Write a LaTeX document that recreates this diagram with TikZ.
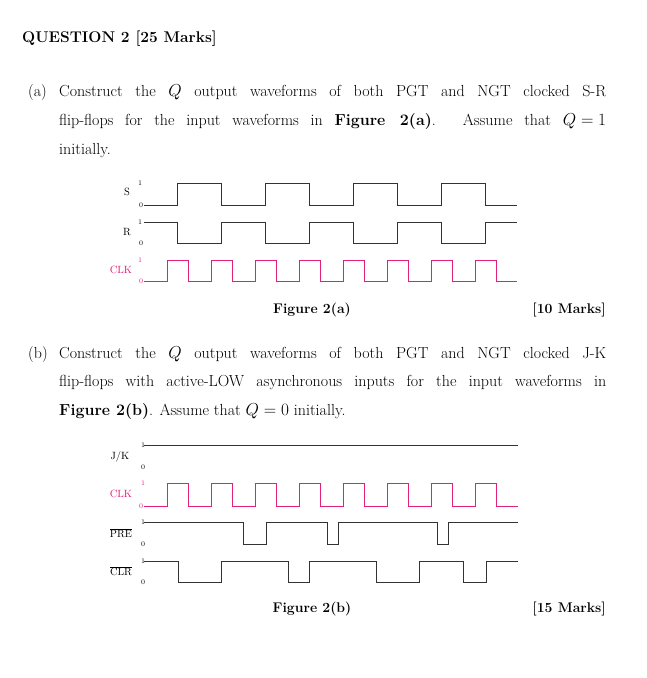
\documentclass[tikz,border=0pt]{standalone}
\usepackage{amsmath}
\definecolor{clkpink}{HTML}{E0207A}
\begin{document}
\begin{tikzpicture}[x=1pt,y=-1pt,
  body/.style={anchor=base west,inner sep=0pt,font=\fontsize{16}{19}\selectfont},
  wave/.style={line width=0.9pt,black!80},
  clkwave/.style={line width=0.9pt,clkpink},
  lvl/.style={inner sep=0pt,font=\fontsize{7}{8}\selectfont},
  sig/.style={inner sep=0pt,font=\fontsize{10.5}{12}\selectfont}]
\useasboundingbox (0,0) rectangle (647,678);
\node[body,font=\fontsize{15.5}{18}\selectfont\bfseries] (title) at (22,42) {QUESTION 2 [25 Marks]};
% part (a)
\node[body] (pa) at (28,96) {(a)};
\node[body] (a1) at (59,96) {\makebox[547pt][s]{Construct the $Q$ output waveforms of both PGT and NGT clocked S-R}};
\node[body] (a2) at (59,125) {\makebox[547pt][s]{flip-flops for the input waveforms in \textbf{Figure 2(a)}. Assume that \mbox{$Q=1$}}};
\node[body] (a3) at (59,154) {initially.};
% S
\node[sig] (sl) at (127,192) {S};
\node[lvl] (s1) at (140,183) {1};
\node[lvl] (s0) at (141,205) {0};
\draw[wave] (144,205) -- (177,205)
  \foreach \k in {0,...,3}{ -- ({177+88*\k},205) -- ({177+88*\k},183) -- ({221+88*\k},183) -- ({221+88*\k},205)} -- (517,205);
\node[sig] (rl) at (127,232) {R};
\node[lvl] (r1) at (140,222) {1};
\node[lvl] (r0) at (141,243) {0};
\draw[wave] (144,222) -- (177,222)
  \foreach \k in {0,...,3}{ -- ({177+88*\k},222) -- ({177+88*\k},243) -- ({221+88*\k},243) -- ({221+88*\k},222)} -- (517,222);
\node[sig,text=clkpink] (cl) at (121,270) {CLK};
\node[lvl,text=clkpink] (c1) at (140,260) {1};
\node[lvl,text=clkpink] (c0) at (141,281) {0};
\draw[clkwave] (144,281) -- (167,281)
  \foreach \k in {0,...,7}{ -- ({167+44*\k},281) -- ({167+44*\k},260) -- ({188+44*\k},260) -- ({188+44*\k},281)} -- (517,281);
\node[inner sep=0pt,font=\fontsize{14}{16}\selectfont\bfseries] (fa) at (312,310) {Figure 2(a)};
\node[inner sep=0pt,anchor=east,font=\fontsize{14}{16}\selectfont\bfseries] (ma) at (606,310) {[10 Marks]};
% part (b)
\node[body] (pb) at (28,358) {(b)};
\node[body] (b1) at (59,358) {\makebox[547pt][s]{Construct the $Q$ output waveforms of both PGT and NGT clocked J-K}};
\node[body] (b2) at (59,386) {\makebox[547pt][s]{flip-flops with active-LOW asynchronous inputs for the input waveforms in}};
\node[body] (b3) at (59,415) {\textbf{Figure 2(b)}. Assume that $Q=0$ initially.};
\node[sig] (jl) at (120,457) {J/K};
\node[lvl] (j1) at (143,445) {1};
\node[lvl] (j0) at (143,467) {0};
\draw[wave] (144,445) -- (518,445);
\node[sig,text=clkpink] (cl2) at (121,494) {CLK};
\node[lvl,text=clkpink] (c21) at (143,483) {1};
\node[lvl,text=clkpink] (c20) at (141,506) {0};
\draw[clkwave] (144,506) -- (167,506)
  \foreach \k in {0,...,7}{ -- ({167+44*\k},506) -- ({167+44*\k},483) -- ({188+44*\k},483) -- ({188+44*\k},506)} -- (518,506);
\node[sig] (pl) at (121,533) {$\overline{\text{PRE}}$};
\node[lvl] (p1) at (143,522) {1};
\node[lvl] (p0) at (143,544) {0};
\draw[wave] (144,522) -- (243,522) -- (243,544) -- (266,544) -- (266,522) -- (327,522) -- (327,544) -- (338,544) -- (338,522)
  -- (437,522) -- (437,544) -- (448,544) -- (448,522) -- (518,522);
\node[sig] (kl) at (121,571) {$\overline{\text{CLR}}$};
\node[lvl] (k1) at (143,561) {1};
\node[lvl] (k0) at (143,582) {0};
\draw[wave] (144,561) -- (178,561) -- (178,582) -- (221,582) -- (221,561) -- (288,561) -- (288,582) -- (309,582) -- (309,561)
  -- (376,561) -- (376,582) -- (419,582) -- (419,561) -- (463,561) -- (463,582) -- (486,582) -- (486,561) -- (518,561);
\node[inner sep=0pt,font=\fontsize{14}{16}\selectfont\bfseries] (fb) at (312,609) {Figure 2(b)};
\node[inner sep=0pt,anchor=east,font=\fontsize{14}{16}\selectfont\bfseries] (mb) at (606,609) {[15 Marks]};
\end{tikzpicture}
\end{document}
